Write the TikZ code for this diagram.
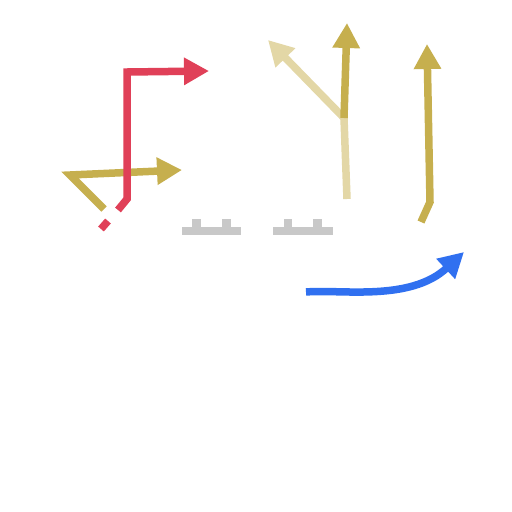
\documentclass[tikz,border=0pt]{standalone}
\usetikzlibrary{arrows.meta}
\definecolor{cred}{HTML}{E04058}
\definecolor{cgold}{HTML}{C6AF4E}
\definecolor{clgold}{HTML}{E3D7A6}
\definecolor{cblue}{HTML}{3070F0}
\definecolor{cgray}{HTML}{C8C8C8}
\tikzset{
  path/.style={line width=7.5pt},
  tip/.style={-{Triangle[length=25pt,width=26pt]}},
  rail/.style={fill=cgray,draw=none}
}
\begin{document}
\begin{tikzpicture}[x=1pt,y=-1pt]
\useasboundingbox (0,0) rectangle (512,512);
% gray rails
\fill[rail] (182,227) rectangle (241,235);
\fill[rail] (192,219) rectangle (201,227);
\fill[rail] (222,219) rectangle (231,227);
\fill[rail] (273,227) rectangle (333,235);
\fill[rail] (284,219) rectangle (292,227);
\fill[rail] (313,219) rectangle (322,227);
% coordinates
\coordinate (g1) at (104,209);
\coordinate (g2) at (70,175);
\coordinate (g3) at (182,170);
\coordinate (r0) at (101,229);
\coordinate (r0b) at (108,221);
\coordinate (r1) at (118,210);
\coordinate (r2) at (127,199);
\coordinate (r3) at (127,72);
\coordinate (r4) at (209,71);
\coordinate (l1) at (347,199);
\coordinate (l2) at (344,118);
\coordinate (l3) at (268,40);
\coordinate (d1) at (347,23);
\coordinate (k1) at (421,222);
\coordinate (k2) at (430,202);
\coordinate (k3) at (427,44);
\coordinate (b1) at (306,292);
\coordinate (b2) at (464,252);
% gold left
\draw[path,cgold,tip] (g1) -- (g2) -- (g3);
% red
\draw[path,cred] (r0) -- (r0b);
\draw[path,cred,tip,line join=miter] (r1) -- (r2) -- (r3) -- (r4);
% light gold fork
\draw[path,clgold,tip] (l1) -- (l2) -- (l3);
\draw[path,cgold,tip] (l2) -- (d1);
% right gold
\draw[path,cgold,tip] (k1) -- (k2) -- (k3);
% blue
\draw[path,cblue,tip] (b1) .. controls (340,289) and (410,302) .. (b2);
\end{tikzpicture}
\end{document}
